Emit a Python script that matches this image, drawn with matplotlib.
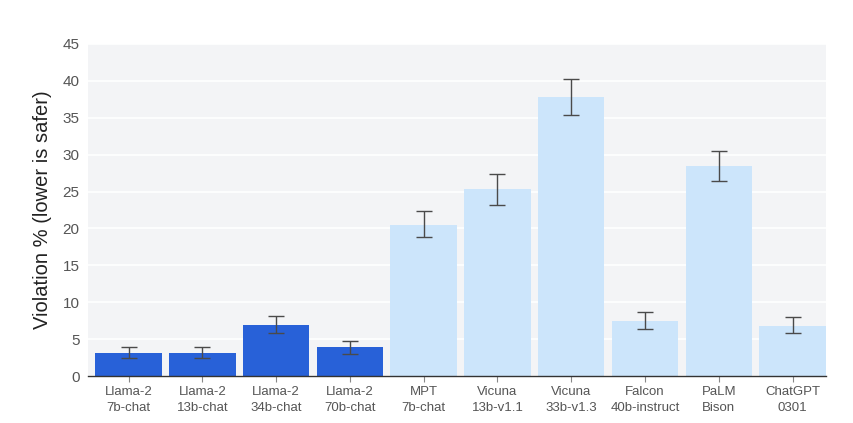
import matplotlib
matplotlib.use("Agg")
import matplotlib.pyplot as plt
import numpy as np

plt.rcParams["font.family"] = ["Liberation Sans", "DejaVu Sans"]

models = ["Llama-2\n7b-chat", "Llama-2\n13b-chat", "Llama-2\n34b-chat", "Llama-2\n70b-chat",
          "MPT\n7b-chat", "Vicuna\n13b-v1.1", "Vicuna\n33b-v1.3", "Falcon\n40b-instruct",
          "PaLM\nBison", "ChatGPT\n0301"]
violation = [3.15, 3.15, 6.95, 3.9, 20.5, 25.3, 37.8, 7.5, 28.5, 6.8]
err_high = [3.9, 3.9, 8.2, 4.8, 22.3, 27.4, 40.2, 8.7, 30.5, 7.95]
err_low = [2.5, 2.5, 5.8, 3.0, 18.8, 23.2, 35.4, 6.4, 26.5, 5.8]
is_llama = [True, True, True, True, False, False, False, False, False, False]

dark = "#2861d8"
light = "#cce5fb"

fig = plt.figure(figsize=(8.54, 4.23), dpi=100)
ax = fig.add_axes([0.103, 0.111, 0.864, 0.785])
ax.set_facecolor("#f3f4f6")
x = np.arange(len(models))
colors = [dark if l else light for l in is_llama]
ax.bar(x, violation, width=0.9, color=colors, zorder=2)
v = np.array(violation)
yerr = [v - np.array(err_low), np.array(err_high) - v]
ax.errorbar(x, violation, yerr=yerr, fmt="none", ecolor="#4a4a4a", elinewidth=1.0,
            capsize=6, capthick=1.0, zorder=3)

ax.set_xlim(-0.55, 9.45)
ax.set_ylim(0, 45)
ax.set_yticks(range(0, 46, 5))
ax.yaxis.grid(True, color="white", linewidth=1.2, zorder=1)
ax.set_axisbelow(True)
for s in ["top", "right", "left"]:
    ax.spines[s].set_visible(False)
ax.spines["bottom"].set_color("#333333")
ax.spines["bottom"].set_linewidth(1.0)
ax.tick_params(axis="y", length=0, labelsize=11, labelcolor="#555555", pad=6)
ax.tick_params(axis="x", length=4, color="#888888", labelsize=9.5, labelcolor="#555555", pad=3)
ax.set_xticks(x)
ax.set_xticklabels(models, linespacing=1.45)
ax.set_ylabel("Violation % (lower is safer)", fontsize=14.5, color="#222222", labelpad=8)

fig.savefig("out.png", dpi=100, facecolor="white")
